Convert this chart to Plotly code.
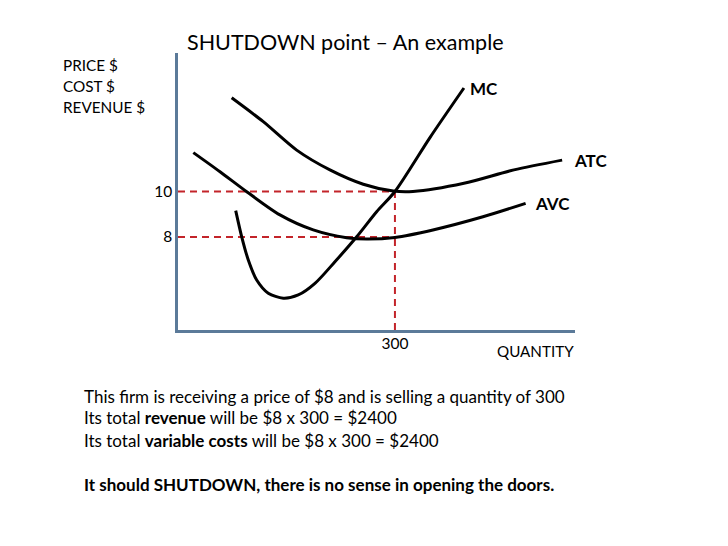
import plotly.graph_objects as go

# ---- data (price units vs quantity) ----
mc_q = [79.8, 88.1, 97.2, 108.8, 124.8, 145.6, 166.3, 189.4, 217.0, 247.1, 274.7, 300.0, 348.4, 395.4]
mc_p = [9.16, 8.01, 6.99, 6.11, 5.53, 5.31, 5.45, 5.96, 6.91, 8.01, 9.11, 10.0, 12.37, 14.55]

atc_q = [74.2, 117.9, 164.1, 210.1, 256.2, 297.7, 324.9, 395.4, 464.5, 531.2]
atc_p = [14.12, 13.07, 11.82, 10.95, 10.32, 10.02, 10.0, 10.36, 10.95, 11.38]

avc_q = [21.2, 58.1, 95.0, 141.0, 187.0, 233.2, 260.9, 300.0, 352.5, 421.7, 480.7]
avc_p = [11.71, 10.87, 9.99, 8.97, 8.31, 7.97, 7.91, 7.98, 8.31, 8.89, 9.48]

curve_names = ["MC", "ATC", "AVC"]
price_ticks = [8, 10]
price_labels = ["8", "10"]
qty_ticks = [300]
qty_labels = ["300"]
shutdown_q = 300
atc_min_price = 10
price = 8

y_range = [3.91, 16.09]
x_range = [0, 549]

title = "SHUTDOWN point \u2013 An example"
y_label_lines = ["PRICE $", "COST $", "REVENUE $"]
x_label = "QUANTITY"
note_lines = [
    "This firm is receiving a price of $8 and is selling a quantity of 300",
    "Its total <b>revenue</b> will be $8 x 300 = $2400",
    "Its total <b>variable costs</b> will be $8 x 300 = $2400",
    "<b>It should SHUTDOWN, there is no sense in opening the doors.</b>",
]

W, H = 728, 546
FONT = "Lato"
RED = "#C3242A"
AXIS = "#5B7A99"

fig = go.Figure()

# dashed guide lines
dash_style = dict(color=RED, width=2, dash="7px,5px")
fig.add_trace(go.Scatter(x=[x_range[0], shutdown_q], y=[atc_min_price, atc_min_price],
                         mode="lines", line=dash_style, hoverinfo="skip", showlegend=False))
fig.add_trace(go.Scatter(x=[x_range[0], shutdown_q], y=[price, price],
                         mode="lines", line=dash_style, hoverinfo="skip", showlegend=False))
fig.add_trace(go.Scatter(x=[shutdown_q, shutdown_q], y=[y_range[0], atc_min_price],
                         mode="lines", line=dash_style, hoverinfo="skip", showlegend=False))

curve_data = [(mc_q, mc_p), (atc_q, atc_p), (avc_q, avc_p)]
label_shift = [4, 10, 7]
for name, (q, p), sh in zip(curve_names, curve_data, label_shift):
    fig.add_trace(go.Scatter(x=q, y=p, mode="lines", name=name,
                             line=dict(color="black", width=3, shape="spline", smoothing=0.8),
                             showlegend=False))
    fig.add_annotation(x=q[-1], y=p[-1], xref="x", yref="y", text="<b>" + name + "</b>",
                       showarrow=False, xanchor="left", yanchor="middle", xshift=sh,
                       font=dict(family=FONT, size=17, color="black"))

def px_x(px):
    return px / W

def px_y(py):
    return 1 - py / H

# title
fig.add_annotation(x=px_x(185), y=px_y(42), xref="paper", yref="paper", text=title,
                   showarrow=False, xanchor="left", yanchor="middle",
                   font=dict(family=FONT, size=21.5, color="black"))
# y label lines
for t, py in zip(y_label_lines, [64.5, 86, 107.5]):
    fig.add_annotation(x=px_x(61), y=px_y(py), xref="paper", yref="paper", text=t,
                       showarrow=False, xanchor="left", yanchor="middle",
                       font=dict(family=FONT, size=15.3, color="black"))
# x label
fig.add_annotation(x=px_x(576), y=px_y(351), xref="paper", yref="paper", text=x_label,
                   showarrow=False, xanchor="right", yanchor="middle",
                   font=dict(family=FONT, size=15.2, color="black"))
# notes
for t, py in zip(note_lines, [396, 418, 440, 484]):
    fig.add_annotation(x=px_x(82), y=px_y(py), xref="paper", yref="paper", text=t,
                       showarrow=False, xanchor="left", yanchor="middle",
                       font=dict(family=FONT, size=17, color="black"))

fig.update_layout(
    width=W, height=H,
    margin=dict(l=0, r=0, t=0, b=0),
    paper_bgcolor="white", plot_bgcolor="white",
    hovermode=False,
    xaxis=dict(domain=[178 / W, 575 / W], range=x_range, showgrid=False, zeroline=False,
               showline=True, linecolor=AXIS, linewidth=2.5,
               tickvals=qty_ticks, ticktext=qty_labels, ticks="", ticklabelstandoff=-2,
               tickfont=dict(family=FONT, size=15.5, color="black")),
    yaxis=dict(domain=[(H - 330) / H, (H - 53) / H], range=y_range, showgrid=False, zeroline=False,
               showline=True, linecolor=AXIS, linewidth=2.5,
               tickvals=price_ticks, ticktext=price_labels, ticks="",
               tickfont=dict(family=FONT, size=15.5, color="black")),
)

fig.write_html("out.html", config={"displayModeBar": False},
               post_script="document.body.style.margin='0px';")
